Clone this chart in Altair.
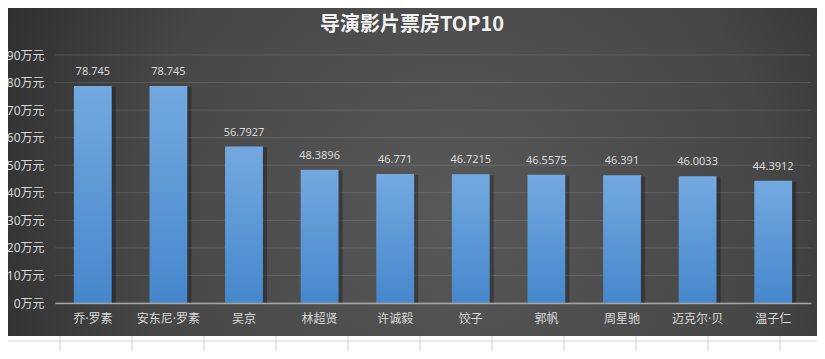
import altair as alt
import pandas as pd

names = ["乔·罗素", "安东尼·罗素", "吴京", "林超贤", "许诚毅", "饺子", "郭帆", "周星驰", "迈克尔·贝", "温子仁"]
values = [78.745, 78.745, 56.7927, 48.3896, 46.771, 46.7215, 46.5575, 46.391, 46.0033, 44.3912]
y_ticks = [0, 10, 20, 30, 40, 50, 60, 70, 80, 90]
title_text = "导演影片票房TOP10"

df = pd.DataFrame({"name": names, "value": values, "label": [str(v) for v in values]})
ticks_df = pd.DataFrame({"v": y_ticks})

W, H = 756, 248
PL, PT, PR, PB = 47, 47, 6, 48
FONT = "'Noto Sans', 'Noto Sans CJK SC'"

bg_fill = {
    "gradient": "radial",
    "x1": 0.55, "y1": 0.55, "r1": 0,
    "x2": 0.55, "y2": 0.55, "r2": 0.72,
    "stops": [
        {"offset": 0, "color": "#585858"},
        {"offset": 0.55, "color": "#464646"},
        {"offset": 1, "color": "#232323"},
    ],
}
bar_fill = {
    "gradient": "linear", "x1": 0, "y1": 0, "x2": 0, "y2": 1,
    "stops": [
        {"offset": 0, "color": "#73a9e0"},
        {"offset": 1, "color": "#4687cc"},
    ],
}

one = pd.DataFrame({"k": [0]})
background = alt.Chart(one).mark_rect(fill=bg_fill).encode(
    x=alt.value(-PL), x2=alt.value(W + PR), y=alt.value(-PT), y2=alt.value(H + 33)
)

# spreadsheet cell borders under the chart (decoration)
cell_x = pd.DataFrame({"px": [5 + 72 * i for i in range(11)]})
cell_v = alt.Chart(cell_x).mark_rule(color="#d4d4d4", strokeWidth=1).encode(
    x=alt.X("px:Q", scale=None), y=alt.value(H + 33), y2=alt.value(H + PB)
)
cell_h = alt.Chart(one).mark_rule(color="#d4d4d4", strokeWidth=1).encode(
    x=alt.value(-PL), x2=alt.value(W + PR), y=alt.value(H + 38)
)

title_df = pd.DataFrame({"t": [title_text]})
title = alt.Chart(title_df).mark_text(
    fontSize=20, fontWeight="bold", color="#f2f2f2", font="'Noto Sans CJK SC'", baseline="middle",
).encode(text="t:N", x=alt.value(W / 2 - 21), y=alt.value(-30))

yscale = alt.Scale(domain=[0, 90], nice=False)
xscale = alt.Scale(paddingInner=0.5, paddingOuter=0.25)
yaxis = alt.Axis(
    values=y_ticks, labelExpr="datum.label + '万元'", grid=False, domain=False, ticks=False,
    labelPadding=11, labelColor="#d9d9d9", labelFontSize=12, labelFont=FONT, zindex=1, title=None,
)
xaxis = alt.Axis(
    labelAngle=0, grid=False, ticks=False, domainColor="#a6a6a6", domainWidth=1.5,
    labelPadding=10, labelColor="#d9d9d9", labelFontSize=12, labelFont=FONT, zindex=1, title=None,
)

grid = alt.Chart(ticks_df).mark_rule(color="white", opacity=0.13, strokeWidth=1).encode(
    y=alt.Y("v:Q", scale=yscale, axis=yaxis)
)

shadow = alt.Chart(df).mark_bar(color="black", opacity=0.28, xOffset=3, yOffset=1, size=40).encode(
    x=alt.X("name:N", sort=names, scale=xscale, axis=xaxis),
    y=alt.Y("value:Q", scale=yscale, axis=yaxis),
)

bars = alt.Chart(df).mark_bar(fill=bar_fill).encode(
    x=alt.X("name:N", sort=names, scale=xscale, axis=xaxis),
    y=alt.Y("value:Q", scale=yscale, axis=yaxis),
)

labels = alt.Chart(df).mark_text(dy=-14, fontSize=11, color="#d9d9d9", font=FONT).encode(
    x=alt.X("name:N", sort=names, scale=xscale, axis=xaxis),
    y=alt.Y("value:Q", scale=yscale, axis=yaxis),
    text="label:N",
)

chart = alt.layer(background, cell_v, cell_h, grid, shadow, bars, labels, title).properties(
    width=W, height=H,
    autosize=alt.AutoSizeParams(type="none"),
    padding={"left": PL, "top": PT, "right": PR, "bottom": PB},
    background="white",
).configure_view(stroke=None)

chart.save("out.html", embed_options={"renderer": "svg", "actions": False})
